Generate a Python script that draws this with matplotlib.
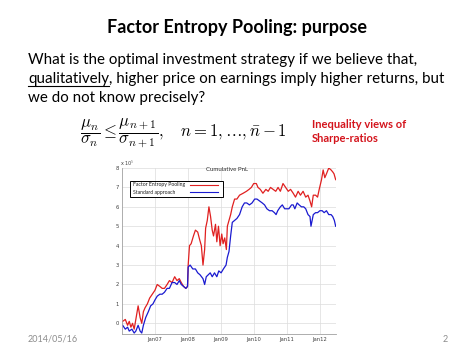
import matplotlib
matplotlib.use("Agg")
import matplotlib.pyplot as plt
from matplotlib.patches import Rectangle

# Cumulative PnL (x 1e5); x in decimal years
fep_years = [2006.02, 2006.10, 2006.17, 2006.22, 2006.27, 2006.32, 2006.37, 2006.42, 2006.49, 2006.55,
             2006.60, 2006.65, 2006.70, 2006.77, 2006.84, 2006.92, 2007.00, 2007.07, 2007.15, 2007.22,
             2007.29, 2007.37, 2007.44, 2007.52, 2007.60, 2007.67, 2007.74, 2007.80, 2007.87, 2007.94,
             2007.99, 2008.01, 2008.05, 2008.10, 2008.17, 2008.23, 2008.30, 2008.36, 2008.41, 2008.46,
             2008.51, 2008.54, 2008.59, 2008.64, 2008.69, 2008.74, 2008.78, 2008.84, 2008.88, 2008.93,
             2008.98, 2009.03, 2009.07, 2009.12, 2009.17, 2009.20, 2009.25, 2009.30, 2009.35, 2009.42,
             2009.49, 2009.57, 2009.68, 2009.78, 2009.86, 2009.93, 2010.00, 2010.08, 2010.13, 2010.20,
             2010.28, 2010.37, 2010.44, 2010.51, 2010.59, 2010.67, 2010.74, 2010.81, 2010.89, 2010.97,
             2011.05, 2011.12, 2011.20, 2011.27, 2011.35, 2011.42, 2011.50, 2011.58, 2011.65, 2011.71,
             2011.76, 2011.81, 2011.88, 2011.94, 2011.99, 2012.06, 2012.11, 2012.16, 2012.21, 2012.28,
             2012.35, 2012.40, 2012.44, 2012.49]
fep_pnl = [0.1, 0.2, -0.1, 0.1, -0.2, 0.0, -0.3, 0.2, 0.9, 0.3,
           0.0, 0.6, 0.8, 1.0, 1.3, 1.5, 1.7, 2.0, 1.9, 1.8,
           1.8, 2.0, 2.2, 2.1, 2.4, 2.2, 2.3, 2.1, 1.9, 1.8,
           1.9, 3.0, 4.0, 4.1, 4.5, 4.8, 4.7, 4.3, 4.0, 3.0,
           3.8, 4.9, 5.3, 6.0, 5.5, 4.8, 4.5, 5.1, 4.2, 5.0,
           4.0, 4.6, 4.1, 4.4, 3.8, 5.0, 5.3, 5.6, 6.0, 6.4,
           6.4, 6.6, 6.7, 6.8, 6.9, 7.0, 7.2, 7.2, 7.0, 6.9,
           6.7, 6.9, 6.8, 7.0, 6.9, 6.8, 7.0, 6.8, 7.2, 7.0,
           6.8, 6.9, 6.7, 6.5, 6.8, 6.6, 6.8, 6.5, 6.6, 6.3,
           6.0, 6.6, 6.6, 6.5, 6.9, 7.4, 7.9, 7.5, 7.7, 8.0,
           7.9, 7.8, 7.7, 7.4]

std_years = [2006.02, 2006.10, 2006.17, 2006.22, 2006.30, 2006.37, 2006.42, 2006.49, 2006.55, 2006.60,
             2006.65, 2006.72, 2006.80, 2006.87, 2006.94, 2007.00, 2007.07, 2007.15, 2007.22, 2007.29,
             2007.37, 2007.44, 2007.52, 2007.60, 2007.67, 2007.74, 2007.80, 2007.87, 2007.94, 2007.99,
             2008.01, 2008.07, 2008.15, 2008.23, 2008.30, 2008.37, 2008.46, 2008.51, 2008.56, 2008.62,
             2008.68, 2008.74, 2008.81, 2008.88, 2008.94, 2009.01, 2009.08, 2009.16, 2009.20, 2009.25,
             2009.30, 2009.35, 2009.42, 2009.49, 2009.57, 2009.65, 2009.72, 2009.79, 2009.87, 2009.95,
             2010.03, 2010.10, 2010.18, 2010.26, 2010.33, 2010.40, 2010.48, 2010.56, 2010.63, 2010.68,
             2010.73, 2010.81, 2010.87, 2010.94, 2011.01, 2011.07, 2011.15, 2011.20, 2011.25, 2011.32,
             2011.38, 2011.45, 2011.52, 2011.58, 2011.65, 2011.71, 2011.74, 2011.81, 2011.88, 2011.94,
             2012.01, 2012.08, 2012.14, 2012.21, 2012.28, 2012.35, 2012.40, 2012.45, 2012.49]
std_pnl = [-0.1, -0.3, -0.2, -0.4, -0.3, -0.5, -0.4, -0.1, -0.4, -0.5,
           -0.1, 0.3, 0.6, 0.9, 1.0, 1.2, 1.4, 1.5, 1.5, 1.6,
           1.8, 1.8, 2.1, 2.1, 2.0, 2.2, 2.0, 1.9, 1.8, 1.9,
           2.9, 3.0, 2.8, 2.8, 2.6, 2.5, 2.3, 2.0, 2.4, 2.5,
           2.6, 2.4, 2.6, 2.4, 2.7, 2.6, 2.8, 3.0, 3.4, 3.7,
           4.5, 5.2, 5.3, 5.4, 5.6, 6.0, 6.2, 6.2, 6.1, 6.2,
           6.4, 6.4, 6.3, 6.2, 6.1, 5.9, 5.8, 5.8, 5.7, 5.6,
           5.8, 6.0, 6.1, 5.9, 5.9, 5.9, 6.1, 6.1, 5.9, 6.2,
           6.1, 6.0, 6.0, 5.9, 5.6, 5.5, 5.0, 5.6, 5.7, 5.7,
           5.8, 5.8, 5.7, 5.8, 5.6, 5.6, 5.5, 5.3, 5.0]

tick_years = [2007, 2008, 2009, 2010, 2011, 2012]
tick_labels = ['Jan07', 'Jan08', 'Jan09', 'Jan10', 'Jan11', 'Jan12']
y_ticks = [0, 1, 2, 3, 4, 5, 6, 7, 8]
series_names = ['Factor Entropy Pooling', 'Standard approach']
series_colors = ['#e02020', '#1a1ad0']

W, H = 474, 355
fig = plt.figure(figsize=(W / 100, H / 100), dpi=100)
fig.patch.set_facecolor('white')
body_font = 'Lato'
body_size = 10.9

# slide title and text
fig.text(0.5, 1 - 28 / H, 'Factor Entropy Pooling: purpose', ha='center', va='center',
         fontsize=13, fontweight='bold', family=body_font)

x0 = 28 / W
fig.text(x0, 1 - 60 / H, 'What is the optimal investment strategy if we believe that,',
         ha='left', va='center', fontsize=body_size, family=body_font)
q = fig.text(x0, 1 - 79 / H, 'qualitatively', ha='left', va='center', fontsize=body_size,
             family=body_font)
fig.canvas.draw()
bb = q.get_window_extent(fig.canvas.get_renderer())
fig.text(bb.x1 / W, 1 - 79 / H, ', higher price on earnings imply higher returns, but',
         ha='left', va='center', fontsize=body_size, family=body_font)
fig.add_artist(plt.Line2D([bb.x0 / W, bb.x1 / W], [1 - 86 / H, 1 - 86 / H],
                          color='black', lw=0.8, transform=fig.transFigure))
fig.text(x0, 1 - 98 / H, 'we do not know precisely?', ha='left', va='center',
         fontsize=body_size, family=body_font)

plt.rcParams['mathtext.fontset'] = 'cm'
fig.text(80 / W, 1 - 133 / H,
         r'$\dfrac{\mu_n}{\sigma_n} \leq \dfrac{\mu_{n+1}}{\sigma_{n+1}},\quad n = 1, \ldots, \bar{n} - 1$',
         ha='left', va='center', fontsize=12)
fig.text(312 / W, 1 - 125 / H, 'Inequality views of', ha='left', va='center',
         fontsize=8, fontweight='bold', color='#d4141c', family=body_font)
fig.text(312 / W, 1 - 139 / H, 'Sharpe-ratios', ha='left', va='center',
         fontsize=8, fontweight='bold', color='#d4141c', family=body_font)

fig.text(28 / W, 1 - 339 / H, '2014/05/16', ha='left', va='center', fontsize=6.5,
         color='#8c8c8c', family=body_font)
fig.text(443 / W, 1 - 339 / H, '2', ha='left', va='center', fontsize=6.5,
         color='#8c8c8c', family=body_font)

# chart
ax = fig.add_axes([122 / W, 1 - 334 / H, (336 - 122) / W, (334 - 168) / H])
ax.plot(fep_years, fep_pnl, color=series_colors[0], lw=0.9)
ax.plot(std_years, std_pnl, color=series_colors[1], lw=0.9)
ax.set_xlim(2006.0, 2012.5)
ax.set_ylim(-0.55, 8)
ax.set_xticks(tick_years)
ax.set_xticklabels(tick_labels)
ax.set_yticks(y_ticks)
ax.tick_params(labelsize=3.8, length=0, pad=2, colors='#404040')
ax.grid(True, color='#dcdcdc', lw=0.5)
for side in ['top', 'right']:
    ax.spines[side].set_visible(False)
for side in ['left', 'bottom']:
    ax.spines[side].set_color('#a0a0a0')
    ax.spines[side].set_linewidth(0.6)
ax.text(0.49, 0.99, 'Cumulative PnL', transform=ax.transAxes, ha='center', va='center',
        fontsize=4.4, color='#303030', family=body_font)
ax.text(-0.01, 1.02, r'x 10$^5$', transform=ax.transAxes, ha='left', va='center',
        fontsize=3.5, color='#404040')

# matlab-style legend: label first, line sample on the right
ax.add_patch(Rectangle((0.037, 0.825), 0.435, 0.097, transform=ax.transAxes,
                       facecolor='white', edgecolor='black', lw=0.7, zorder=5))
for i, (name, col) in enumerate(zip(series_names, series_colors)):
    yy = 0.898 - i * 0.045
    ax.text(0.052, yy, name, transform=ax.transAxes, ha='left', va='center',
            fontsize=3.7, color='#202020', family=body_font, zorder=6)
    ax.plot([0.318, 0.449], [yy, yy], transform=ax.transAxes, color=col, lw=0.8, zorder=6)

fig.savefig('out.png', dpi=100)
